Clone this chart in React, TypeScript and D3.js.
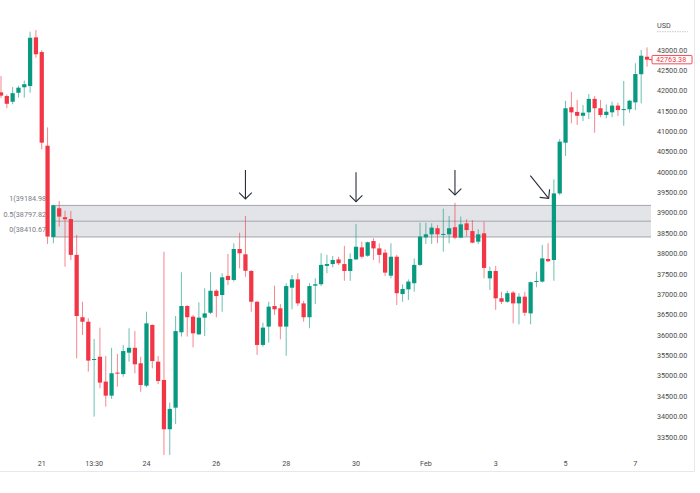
import React from 'react';
import * as d3 from 'd3';

// 4h candles, [open, high, low, close]
const candles: [number, number, number, number][] = [
  [41960, 42360, 41820, 41880], [41870, 41910, 41570, 41680], [41730, 42090, 41670, 41940],
  [41950, 42120, 41830, 42075], [42085, 42250, 41830, 42160], [42115, 43450, 41950, 43300],
  [43310, 43490, 42810, 42895], [42950, 43000, 40563, 40725], [40650, 41100, 38240, 38420],
  [38410.67, 39200, 38255, 39184.98], [39115, 39295, 38665, 38910], [38895, 39055, 37680, 38845],
  [38850, 39050, 37845, 37970], [37970, 38460, 35430, 36470], [36440, 36820, 36005, 36330],
  [36330, 36415, 35105, 35375], [35390, 35905, 34000, 35415], [35470, 36185, 34695, 34835],
  [34860, 35490, 34245, 34515], [34515, 35690, 34435, 35065], [35080, 35540, 34735, 35055],
  [35045, 35760, 34980, 35610], [35570, 36170, 35350, 35690], [35690, 36100, 35065, 35285],
  [35310, 35470, 34610, 34775], [34760, 36575, 34720, 36290], [36250, 36265, 35185, 35365],
  [35350, 35490, 34800, 34875], [34900, 38050, 33060, 33690], [33690, 34345, 33060, 34190],
  [34220, 36470, 33820, 36100], [36070, 37545, 35965, 36715], [36715, 36740, 35965, 36440],
  [36455, 36495, 35700, 36045], [36020, 36805, 36005, 36430], [36430, 37150, 35980, 36535],
  [36550, 37545, 36520, 37090], [37090, 37125, 36440, 36960], [36985, 37520, 36575, 37420],
  [37455, 37995, 37230, 37355], [37355, 38255, 37315, 38115], [38115, 38515, 37640, 38010],
  [37985, 38925, 37435, 37580], [37575, 37600, 36575, 36820], [36820, 36840, 35515, 35760],
  [35760, 36305, 35715, 36185], [36210, 36820, 35815, 36700], [36715, 37215, 36495, 36635],
  [36660, 36765, 35900, 36210], [36210, 37275, 35495, 37205], [37165, 37475, 36635, 37370],
  [37370, 37520, 36715, 36780], [36780, 36845, 36330, 36440], [36440, 37275, 36170, 37205],
  [37215, 37395, 36765, 37250], [37250, 38010, 37205, 37725], [37700, 37970, 37520, 37745],
  [37745, 37945, 37665, 37845], [37860, 37925, 37720, 37765], [37745, 38190, 37335, 37575],
  [37575, 38010, 37335, 37870], [37860, 38730, 37845, 38170], [38155, 38295, 37885, 37925],
  [37950, 38295, 37925, 38280], [38310, 38380, 37845, 38130], [38130, 38255, 37765, 37970],
  [38025, 38110, 37455, 37535], [37460, 38255, 37395, 37925], [37925, 37970, 36740, 37030],
  [37010, 37250, 36820, 37135], [37125, 37370, 36865, 37315], [37275, 37885, 37065, 37725],
  [37725, 38760, 37700, 38420], [38400, 38760, 38240, 38475], [38475, 38745, 38240, 38640],
  [38625, 38705, 38255, 38475], [38460, 39105, 38050, 38485], [38475, 38925, 38255, 38625],
  [38650, 39250, 38355, 38395], [38395, 38910, 38380, 38720], [38745, 38845, 38420, 38580],
  [38555, 38825, 38255, 38270], [38295, 38600, 38240, 38475], [38500, 38785, 37395, 37650],
  [37395, 37680, 37110, 37575], [37575, 37700, 36620, 36905], [36905, 37065, 36765, 36820],
  [36820, 37090, 36795, 37030], [37045, 37085, 36290, 36780], [36780, 37030, 36265, 36945],
  [36945, 37065, 36470, 36550], [36535, 37315, 36265, 37300], [37305, 37560, 37175, 37330],
  [37315, 38215, 37290, 37885], [37870, 38255, 37795, 37815], [37845, 39825, 37335, 39480],
  [39480, 40815, 39440, 40750], [40725, 41755, 40400, 41570], [41595, 41975, 41200, 41470],
  [41480, 41775, 41160, 41385], [41385, 41650, 41255, 41460], [41470, 41920, 41305, 41800],
  [41800, 41870, 40970, 41570], [41570, 41775, 41350, 41405], [41405, 41665, 41325, 41485],
  [41470, 41730, 41350, 41635], [41635, 41705, 41380, 41525], [41525, 42240, 41140, 41550],
  [41545, 41775, 41460, 41755], [41715, 42675, 41525, 42410], [42405, 43000, 41690, 42860],
  [42835, 43065, 42590, 42763.38],
];

const timeLabelIdx = [7, 16, 25, 37, 49, 61, 73, 85, 97, 109];
const timeLabelText = ['21', '13:30', '24', '26', '28', '30', 'Feb', '3', '5', '7'];

const priceTicks = [
  43000, 42500, 42000, 41500, 41000, 40500, 40000, 39500, 39000, 38500,
  38000, 37500, 37000, 36500, 36000, 35500, 35000, 34500, 34000, 33500,
];

const fibRatios = ['1', '0.5', '0'];
const fibPrices = [39184.98, 38797.82, 38410.67];
const fibStartIdx = 9;
const lastPrice = 42763.38;

// arrows: tail (index, price) -> tip (index, price)
const arrowTail: [number, number][] = [[42, 40055], [61, 39998], [78, 40054], [90.95, 39915]];
const arrowTip: [number, number][] = [[42, 39343], [61, 39276], [78, 39441], [94.1, 39360]];

const W = 700;
const H = 493;
const UP = '#089981';
const DOWN = '#f23645';
const FONT = 'Roboto, "Open Sans", sans-serif';
const TEXT = '#4a4a4a';

const App: React.FC = () => {
  const n = candles.length;
  const step = 5.82;
  const x = d3.scaleBand<number>()
    .domain(d3.range(n))
    .range([1 - step / 2, 1 - step / 2 + step * n])
    .paddingInner(0.27)
    .paddingOuter(0.135);
  const bw = x.bandwidth();
  const cx = (i: number) => (x(i) ?? 0) + bw / 2;
  const xi = d3.scaleLinear().domain([0, n - 1]).range([cx(0), cx(n - 1)]);
  const y = d3.scaleLinear().domain([33500, 43000]).range([437, 50]);

  const plotRight = 652;
  const fibLeft = x(fibStartIdx) ?? 0;

  const arrowHead = (t: [number, number], h: [number, number]) => {
    const x1 = xi(t[0]), y1 = y(t[1]), x2 = xi(h[0]), y2 = y(h[1]);
    const a = Math.atan2(y2 - y1, x2 - x1);
    const len = 9;
    const p1 = [x2 - len * Math.cos(a - Math.PI / 4), y2 - len * Math.sin(a - Math.PI / 4)];
    const p2 = [x2 - len * Math.cos(a + Math.PI / 4), y2 - len * Math.sin(a + Math.PI / 4)];
    return `M${p1[0]},${p1[1]}L${x2},${y2}L${p2[0]},${p2[1]}`;
  };

  return (
    <svg width={W} height={H} style={{ position: 'absolute', left: 0, top: 0, background: '#fff' }}>
      <defs>
        <clipPath id="plot">
          <rect x={0} y={0} width={plotRight} height={471} />
        </clipPath>
      </defs>

      {/* fib band */}
      <g>
        <rect x={fibLeft} y={y(fibPrices[0])} width={plotRight - 1 - fibLeft}
          height={y(fibPrices[2]) - y(fibPrices[0])} fill="#e3e4e8" />
        {fibPrices.map((p, k) => (
          <g key={k}>
            <line x1={fibLeft} x2={plotRight - 1} y1={y(p)} y2={y(p)} stroke="#a3a6ae" strokeWidth={1} />
            <text x={46} y={y(p) - 4.5} textAnchor="end" fontFamily={FONT} fontSize={7.2} fill="#787b86">
              {`${fibRatios[k]}(${p.toFixed(2)}`}
            </text>
          </g>
        ))}
      </g>

      {/* candles */}
      <g clipPath="url(#plot)">
        {candles.map(([o, h, l, c], i) => {
          const col = c >= o ? UP : DOWN;
          const top = y(Math.max(o, c));
          const bh = Math.max(1, Math.abs(y(o) - y(c)));
          return (
            <g key={i}>
              <line x1={cx(i)} x2={cx(i)} y1={y(h)} y2={y(l)} stroke={col} strokeWidth={1} opacity={0.6} />
              <rect x={x(i)} y={top} width={bw} height={bh} fill={col} />
            </g>
          );
        })}
      </g>

      {/* arrows */}
      <g stroke="#2a2e39" strokeWidth={1.1} fill="none">
        {arrowTail.map((t, k) => (
          <g key={k}>
            <line x1={xi(t[0])} y1={y(t[1])} x2={xi(arrowTip[k][0])} y2={y(arrowTip[k][1])} />
            <path d={arrowHead(t, arrowTip[k])} />
          </g>
        ))}
      </g>

      {/* price axis */}
      <g fontFamily={FONT} fontSize={7.2} fill={TEXT}>
        <text x={657} y={25} dy="0.35em">USD</text>
        <line x1={657} x2={688} y1={31.7} y2={31.7} stroke="#c8cad0" strokeDasharray="1.5 1" />
        {priceTicks.map((v) => (
          <text key={v} x={657} y={y(v)} dy="0.35em">{v.toFixed(2)}</text>
        ))}
        <line x1={649} x2={652} y1={y(lastPrice)} y2={y(lastPrice)} stroke={DOWN} />
        <rect x={652} y={y(lastPrice) - 4.2} width={40} height={8.4} fill="#fff" stroke={DOWN} strokeWidth={0.9} rx={1} />
        <text x={656} y={y(lastPrice)} dy="0.35em" fill={DOWN}>{lastPrice.toFixed(2)}</text>
      </g>

      {/* time axis */}
      <g fontFamily={FONT} fontSize={7.2} fill={TEXT} textAnchor="middle">
        {timeLabelIdx.map((idx, k) => (
          <text key={k} x={cx(idx)} y={463.3} dy="0.35em">{timeLabelText[k]}</text>
        ))}
      </g>

      {/* pane borders */}
      <line x1={0} x2={694} y1={471.5} y2={471.5} stroke="#e6e8ee" />
      <line x1={694.5} x2={694.5} y1={0} y2={471.5} stroke="#e6e8ee" />
    </svg>
  );
};

export default App;
